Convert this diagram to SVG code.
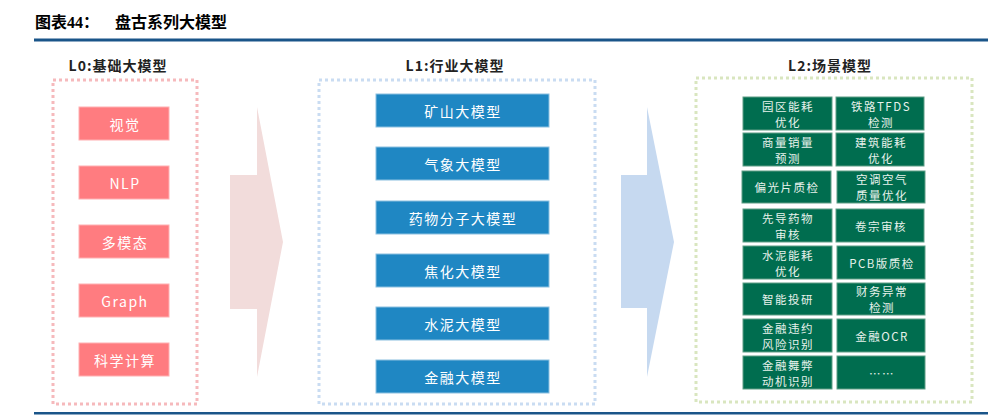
<svg xmlns="http://www.w3.org/2000/svg" width="1000" height="418" viewBox="0 0 1000 418">
<style>
text{font-family:"Noto Sans CJK SC","Noto Sans",sans-serif;text-anchor:middle;dominant-baseline:central}
.title{font-size:16px;font-weight:bold;fill:#000;text-anchor:start;dominant-baseline:auto}
.hdr{font-size:14px;font-weight:bold;fill:#222;letter-spacing:1px}
.red rect{fill:#ff7c80;stroke:#ffb0b2;stroke-width:1}
.red text{fill:#fff;font-size:14px;letter-spacing:1.5px}
.blue rect{fill:#1f87c3;stroke:#8cc0e0;stroke-width:1}
.blue text{fill:#fff;font-size:14px;letter-spacing:1.5px}
.grn rect{fill:#006d4f;stroke:#5e9e86;stroke-width:1}
.grn text{fill:#e8f2ec;font-size:11.5px;letter-spacing:1.5px}
.frame{fill:none;stroke-width:3;stroke-dasharray:3 3}
</style>
<rect width="1000" height="418" fill="#fff"/>
<g id="title">
<text class="title" x="35" y="28">图表<tspan font-family="Liberation Serif,serif">44</tspan>：</text>
<text class="title" x="115" y="28">盘古系列大模型</text>
<rect x="34" y="38.5" width="954" height="3" fill="#1a5589"/>
<rect x="34" y="412" width="954" height="2.5" fill="#1a5589"/>
</g>
<g id="connectors">
<polygon points="230,175 257,175 257,107 283,242 257,377 257,309 230,309" fill="#f2dcdb"/>
<polygon points="621,175 647,175 647,107 674,242 647,377 647,308 621,308" fill="#c6d9f0"/>
</g>
<g id="L0">
<text class="hdr" x="118" y="65">L0:基础大模型</text>
<rect class="frame" x="53" y="80" width="144" height="324" stroke="#f6b9bc"/>
<g class="red">
<rect x="79" y="107" width="90" height="33"/><text x="125" y="123.5">视觉</text>
<rect x="79" y="166" width="90" height="33"/><text x="125" y="182.5">NLP</text>
<rect x="79" y="225" width="90" height="33"/><text x="125" y="241.5">多模态</text>
<rect x="79" y="284" width="90" height="33"/><text x="125" y="300.5">Graph</text>
<rect x="79" y="343" width="90" height="33"/><text x="125" y="359.5">科学计算</text>
</g>
</g>
<g id="L1">
<text class="hdr" x="455" y="65">L1:行业大模型</text>
<rect class="frame" x="319" y="80" width="276" height="324" stroke="#c9dcf2"/>
<g class="blue">
<rect x="376" y="94" width="173" height="33"/><text x="463" y="110.5">矿山大模型</text>
<rect x="376" y="147" width="173" height="33"/><text x="463" y="163.5">气象大模型</text>
<rect x="376" y="201" width="173" height="33"/><text x="463" y="217.5">药物分子大模型</text>
<rect x="376" y="254" width="173" height="33"/><text x="463" y="270.5">焦化大模型</text>
<rect x="376" y="307" width="173" height="33"/><text x="463" y="323.5">水泥大模型</text>
<rect x="376" y="360" width="173" height="33"/><text x="463" y="376.5">金融大模型</text>
</g>
</g>
<g id="L2">
<text class="hdr" x="830" y="65">L2:场景模型</text>
<rect class="frame" x="696" y="78" width="276" height="324" stroke="#d9e6bf"/>
<g class="grn">
<rect x="743" y="97" width="89" height="33"/><text x="788" y="105.5">园区能耗</text><text x="788" y="121.5">优化</text>
<rect x="836" y="97" width="88" height="33"/><text x="881" y="105.5">铁路TFDS</text><text x="881" y="121.5">检测</text>
<rect x="743" y="133" width="89" height="33"/><text x="788" y="141.5">商量销量</text><text x="788" y="157.5">预测</text>
<rect x="836" y="133" width="88" height="33"/><text x="881" y="141.5">建筑能耗</text><text x="881" y="157.5">优化</text>
<rect x="742" y="171" width="89" height="32"/><text x="787" y="187">偏光片质检</text>
<rect x="837" y="171" width="88" height="32"/><text x="882" y="179">空调空气</text><text x="882" y="195">质量优化</text>
<rect x="743" y="209" width="89" height="33"/><text x="788" y="217.5">先导药物</text><text x="788" y="233.5">审核</text>
<rect x="836" y="209" width="88" height="33"/><text x="881" y="225.5">卷宗审核</text>
<rect x="743" y="246" width="89" height="33"/><text x="788" y="254.5">水泥能耗</text><text x="788" y="270.5">优化</text>
<rect x="837" y="246" width="88" height="33"/><text x="882" y="262.5">PCB版质检</text>
<rect x="743" y="283" width="89" height="32"/><text x="788" y="299">智能投研</text>
<rect x="837" y="283" width="88" height="32"/><text x="882" y="291">财务异常</text><text x="882" y="307">检测</text>
<rect x="743" y="319" width="89" height="33"/><text x="788" y="327.5">金融违约</text><text x="788" y="343.5">风险识别</text>
<rect x="837" y="319" width="88" height="33"/><text x="882" y="335.5">金融OCR</text>
<rect x="743" y="356" width="89" height="33"/><text x="788" y="364.5">金融舞弊</text><text x="788" y="380.5">动机识别</text>
<rect x="837" y="356" width="88" height="33"/><text x="882" y="372.5">……</text>
</g>
</g>
</svg>
